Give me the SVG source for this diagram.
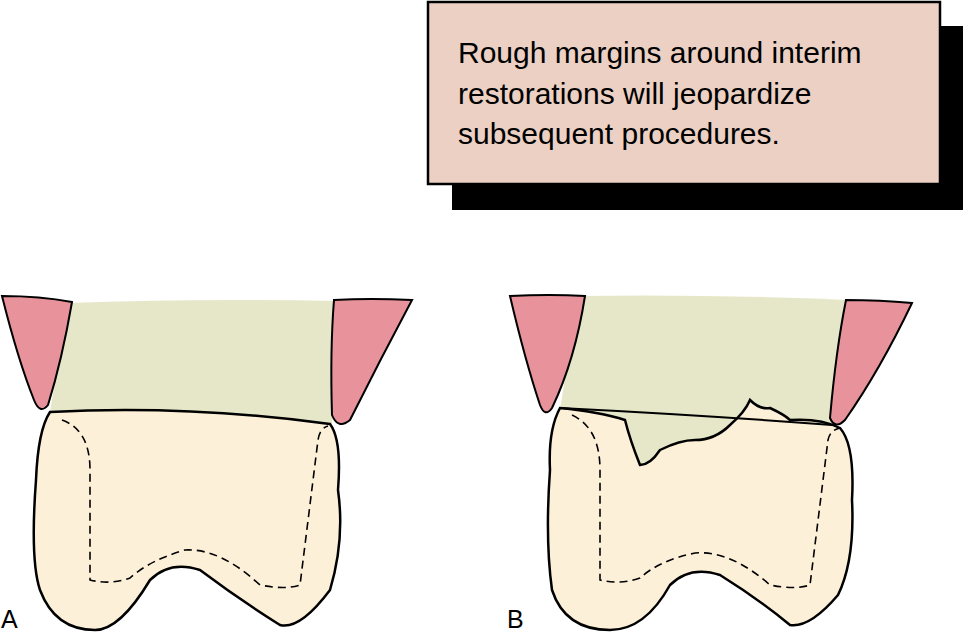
<svg xmlns="http://www.w3.org/2000/svg" width="967" height="636" viewBox="0 0 967 636">
<style>
.gum{fill:#e8939c;stroke:#000;stroke-width:2}
.band{fill:#e6e7c9;stroke:none}
.crown{fill:#fdf0d9;stroke:#000;stroke-width:2.5}
.dash{fill:none;stroke:#000;stroke-width:1.6;stroke-dasharray:8 5}
.edge{fill:none;stroke:#000;stroke-width:2}
.t{font-family:"Liberation Sans",Arial,sans-serif;font-size:30px;fill:#000}
.lab{font-family:"Liberation Sans",Arial,sans-serif;font-size:25px;fill:#000}
</style>
<g id="note">
<rect x="452" y="26" width="511" height="184" fill="#000"/>
<rect x="428" y="2" width="512" height="182" fill="#ebd0c3" stroke="#000" stroke-width="2.5"/>
<text class="t" x="458" y="63">Rough margins around interim</text>
<text class="t" x="458" y="104">restorations will jeopardize</text>
<text class="t" x="458" y="144">subsequent procedures.</text>
</g>
<g id="toothA">
<path class="band" d="M68,303 Q200,298 336,301 L332,424 Q190,405 50,412 Z"/>
<path class="crown" d="M50,412 Q190,405 330,424 Q342,440 338,490 Q345,540 330,590 Q300,630 280,625 Q240,600 200,570 Q170,560 150,580 Q120,630 95,630 Q55,630 40,590 Q30,560 36,480 Q38,430 50,412 Z"/>
<path class="dash" d="M62,420 Q90,430 90,470 L90,580 Q110,585 130,578 Q150,560 185,550 Q220,548 260,585 Q285,590 300,585 L318,440 Q320,428 328,426"/>
<path class="gum" d="M2,296 Q40,296 72,302 Q62,360 48,405 Q40,415 34,400 Q18,360 2,296 Z"/>
<path class="gum" d="M334,300 Q370,298 412,300 Q380,360 350,420 Q338,430 332,415 Q330,350 334,300 Z"/>
<text class="lab" x="1" y="628">A</text>
</g>
<g id="toothB">
<path class="band" d="M578,296 Q710,294 848,300 L832,430 L700,470 L600,470 L560,410 Z"/>
<path class="crown" d="M560,408 Q600,412 625,420 Q630,440 640,465 Q650,465 660,450 Q680,440 695,440 Q715,440 730,425 Q745,412 750,400 Q760,410 770,408 Q785,415 790,420 Q820,418 840,428 Q855,445 852,500 Q855,560 838,595 Q810,628 790,625 Q760,600 720,575 Q690,565 670,585 Q645,630 610,630 Q565,630 552,590 Q545,540 550,470 Q548,430 560,408 Z"/>
<path class="edge" d="M560,408 Q700,415 832,425"/>
<path class="dash" d="M572,415 Q600,428 600,470 L600,580 Q620,585 640,578 Q660,560 695,553 Q730,550 770,585 Q795,590 810,585 L828,440 Q830,430 840,428"/>
<path class="gum" d="M510,296 Q550,294 585,296 Q575,360 552,408 Q545,418 540,405 Q525,360 510,296 Z"/>
<path class="gum" d="M846,300 Q880,300 912,303 Q880,370 845,420 Q835,430 830,418 Q836,350 846,300 Z"/>
<text class="lab" x="507" y="628">B</text>
</g>
</svg>
